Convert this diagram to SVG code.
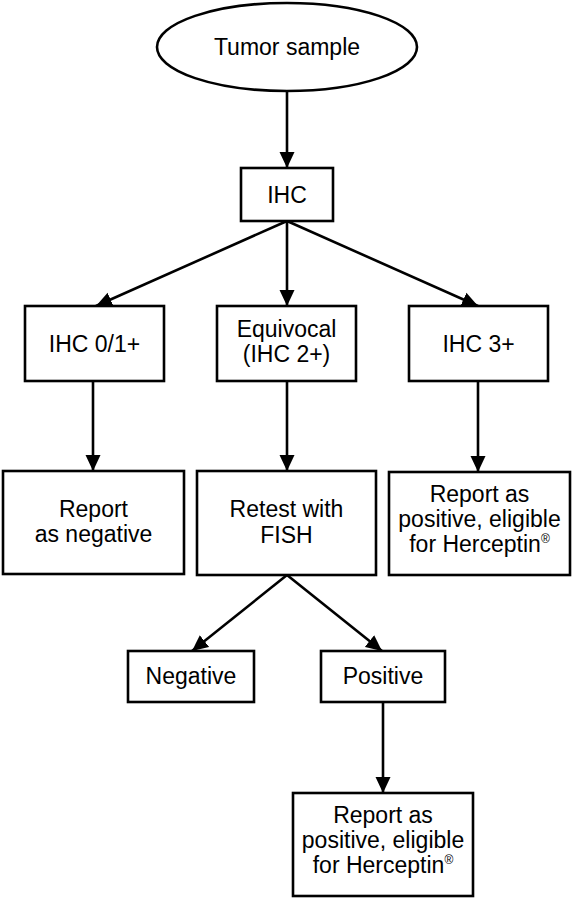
<svg xmlns="http://www.w3.org/2000/svg" width="572" height="900" viewBox="0 0 572 900">
<defs>
<style>
.box{fill:#fff;stroke:#000;stroke-width:2.6}
.t{font-family:"Liberation Sans",Arial,Helvetica,sans-serif;font-size:23px;fill:#000;text-anchor:middle}
.c{fill:none;stroke:#000;stroke-width:2.6}
.r{font-size:12px}
</style>
<marker id="ah" markerUnits="userSpaceOnUse" markerWidth="17" markerHeight="16" refX="16" refY="8" orient="auto">
<path d="M0,0.5 L16,8 L0,15.5 z" fill="#000"/>
</marker>
</defs>
<rect width="572" height="900" fill="#fff"/>
<g id="connectors">
<line class="c" x1="287" y1="91" x2="287" y2="168" marker-end="url(#ah)"/>
<line class="c" x1="287" y1="221" x2="96" y2="306" marker-end="url(#ah)"/>
<line class="c" x1="287" y1="221" x2="287" y2="306" marker-end="url(#ah)"/>
<line class="c" x1="287" y1="221" x2="478" y2="306" marker-end="url(#ah)"/>
<line class="c" x1="93" y1="381" x2="93" y2="471" marker-end="url(#ah)"/>
<line class="c" x1="287" y1="381" x2="287" y2="471" marker-end="url(#ah)"/>
<line class="c" x1="478" y1="381" x2="478" y2="472" marker-end="url(#ah)"/>
<line class="c" x1="287" y1="575" x2="192" y2="651" marker-end="url(#ah)"/>
<line class="c" x1="287" y1="575" x2="382" y2="651" marker-end="url(#ah)"/>
<line class="c" x1="383" y1="702" x2="383" y2="793" marker-end="url(#ah)"/>
</g>
<g id="tumor">
<ellipse class="box" cx="287" cy="47" rx="130" ry="44"/>
<text class="t" x="287" y="55">Tumor sample</text>
</g>
<g id="ihc">
<rect class="box" x="241" y="168" width="92" height="53"/>
<text class="t" x="287" y="203">IHC</text>
</g>
<g id="ihc01">
<rect class="box" x="25" y="306" width="139" height="75"/>
<text class="t" x="94.5" y="352">IHC 0/1+</text>
</g>
<g id="equivocal">
<rect class="box" x="217" y="306" width="139" height="75"/>
<text class="t" x="286.5" y="337">Equivocal</text>
<text class="t" x="286.5" y="362">(IHC 2+)</text>
</g>
<g id="ihc3">
<rect class="box" x="409" y="306" width="139" height="75"/>
<text class="t" x="478.5" y="352">IHC 3+</text>
</g>
<g id="reportneg">
<rect class="box" x="3" y="471" width="181" height="103"/>
<text class="t" x="93.5" y="517">Report</text>
<text class="t" x="93.5" y="542">as negative</text>
</g>
<g id="retest">
<rect class="box" x="197" y="471" width="179" height="104"/>
<text class="t" x="286.5" y="517">Retest with</text>
<text class="t" x="286.5" y="543">FISH</text>
</g>
<g id="reportpos1">
<rect class="box" x="389" y="472" width="181" height="103"/>
<text class="t" x="479.5" y="502">Report as</text>
<text class="t" x="479.5" y="527">positive, eligible</text>
<text class="t" x="479.5" y="552">for Herceptin<tspan class="r" dy="-9">®</tspan></text>
</g>
<g id="negative">
<rect class="box" x="128" y="651" width="126" height="51"/>
<text class="t" x="191" y="684">Negative</text>
</g>
<g id="positive">
<rect class="box" x="321" y="651" width="124" height="51"/>
<text class="t" x="383" y="684">Positive</text>
</g>
<g id="reportpos2">
<rect class="box" x="293" y="793" width="180" height="103"/>
<text class="t" x="383" y="823">Report as</text>
<text class="t" x="383" y="848">positive, eligible</text>
<text class="t" x="383" y="873">for Herceptin<tspan class="r" dy="-9">®</tspan></text>
</g>
</svg>
